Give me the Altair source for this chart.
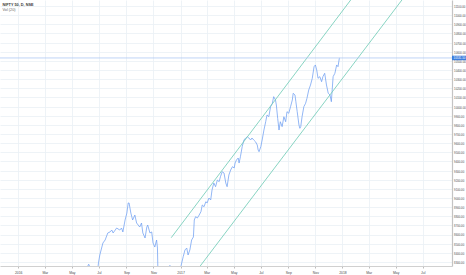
import altair as alt
import pandas as pd

# ---- data ----
dates = [
    "2015-11-20", "2015-12-15", "2016-01-04", "2016-02-12", "2016-03-15", "2016-04-15",
    "2016-05-13", "2016-05-27", "2016-06-08", "2016-06-17", "2016-06-24", "2016-06-27",
    "2016-06-30", "2016-07-03", "2016-07-10", "2016-07-15", "2016-07-21", "2016-07-26",
    "2016-07-30", "2016-08-02", "2016-08-10", "2016-08-17", "2016-08-21", "2016-08-24",
    "2016-08-29", "2016-09-02", "2016-09-05", "2016-09-07", "2016-09-11", "2016-09-15",
    "2016-09-20", "2016-09-24", "2016-10-01", "2016-10-05", "2016-10-08", "2016-10-13",
    "2016-10-17", "2016-10-19", "2016-10-24", "2016-10-28", "2016-10-31", "2016-11-04",
    "2016-11-08", "2016-11-10", "2016-11-11", "2016-11-15", "2016-11-21", "2016-11-25",
    "2016-11-29", "2016-12-02", "2016-12-08", "2016-12-15", "2016-12-23", "2016-12-30",
    "2017-01-01", "2017-01-07", "2017-01-11", "2017-01-15", "2017-01-18", "2017-01-22",
    "2017-01-26", "2017-01-30", "2017-02-01", "2017-02-04", "2017-02-08", "2017-02-12",
    "2017-02-16", "2017-02-19", "2017-02-23", "2017-02-27", "2017-03-02", "2017-03-06",
    "2017-03-10", "2017-03-13", "2017-03-17", "2017-03-21", "2017-03-25", "2017-03-29",
    "2017-04-01", "2017-04-05", "2017-04-09", "2017-04-13", "2017-04-16", "2017-04-20",
    "2017-04-24", "2017-04-28", "2017-05-02", "2017-05-04", "2017-05-07", "2017-05-11",
    "2017-05-13", "2017-05-16", "2017-05-20", "2017-05-24", "2017-05-28", "2017-06-01",
    "2017-06-04", "2017-06-08", "2017-06-11", "2017-06-15", "2017-06-19", "2017-06-23",
    "2017-06-25", "2017-06-27", "2017-07-01", "2017-07-04", "2017-07-08", "2017-07-12",
    "2017-07-15", "2017-07-19", "2017-07-23", "2017-07-27", "2017-07-30", "2017-08-03",
    "2017-08-05", "2017-08-08", "2017-08-11", "2017-08-14", "2017-08-18", "2017-08-22",
    "2017-08-26", "2017-08-29", "2017-09-02", "2017-09-06", "2017-09-10", "2017-09-12",
    "2017-09-16", "2017-09-18", "2017-09-21", "2017-09-25", "2017-09-27", "2017-09-29",
    "2017-10-02", "2017-10-06", "2017-10-10", "2017-10-13", "2017-10-17", "2017-10-21",
    "2017-10-25", "2017-10-29", "2017-11-01", "2017-11-04", "2017-11-07", "2017-11-11",
    "2017-11-15", "2017-11-18", "2017-11-22", "2017-11-26", "2017-11-30", "2017-12-04",
    "2017-12-07", "2017-12-11", "2017-12-15", "2017-12-19", "2017-12-22", "2017-12-25",
    "2017-12-26",
]
closes = [
    7850, 7700, 7790, 6980, 7460, 7850,
    7810, 8160, 8275, 8170, 8090, 8150,
    8290, 8376, 8507, 8540, 8617, 8628,
    8649, 8617, 8671, 8649, 8671, 8628,
    8759, 8835, 8945, 8945, 8835, 8759,
    8813, 8726, 8682, 8726, 8617, 8562,
    8682, 8704, 8617, 8628, 8507, 8463,
    8540, 8452, 8200, 8108, 7930, 8114,
    8245, 8090, 8262, 8150, 7990, 8186,
    8234, 8357, 8431, 8452, 8376, 8431,
    8540, 8573, 8759, 8795, 8781, 8813,
    8850, 8923, 8904, 8959, 8945, 8999,
    8978, 9087, 9164, 9123, 9196, 9178,
    9233, 9287, 9273, 9164, 9123, 9251,
    9306, 9342, 9328, 9382, 9415, 9437,
    9382, 9451, 9561, 9634, 9656, 9670,
    9656, 9634, 9656, 9634, 9615, 9579,
    9524, 9506, 9561, 9634, 9743, 9834,
    9908, 9889, 9998, 10036, 10108, 10072,
    10017, 9871, 9743, 9834, 9780, 9889,
    9834, 9944, 9926, 9998, 10072, 10145,
    10126, 10053, 9944, 9798, 9762, 9780,
    9889, 9998, 10036, 10090, 10181, 10236,
    10309, 10436, 10455, 10400, 10309, 10327,
    10272, 10327, 10364, 10236, 10145, 10126,
    10053, 10327, 10364, 10455, 10436, 10528,
    10531.50,
]

upper_dates = ["2016-12-11", "2018-02-10"]
upper_vals = [8565, 11303]
lower_dates = ["2017-02-01", "2018-06-01"]
lower_vals = [8170, 11274]

last_price = [10531.50]
last_label = ["10531.50"]

y_ticks = list(range(8300, 11101, 100))
x_tick_months = [(2016, 1), (2016, 3), (2016, 5), (2016, 7), (2016, 9), (2016, 11),
                 (2017, 1), (2017, 3), (2017, 5), (2017, 7), (2017, 9), (2017, 11),
                 (2018, 1), (2018, 3), (2018, 5), (2018, 7)]
header_title = ["NIFTY 50, D, NSE"]
header_sub = ["Vol (20)"]

# ---- tables ----
price_df = pd.DataFrame({"date": dates, "close": closes})
chan_df = pd.DataFrame({
    "ch": ["upper"] * 2 + ["lower"] * 2,
    "date": upper_dates + lower_dates,
    "val": upper_vals + lower_vals,
})
last_df = pd.DataFrame({"date": [dates[-1]], "p": last_price, "label": last_label})

W, H = 452, 266
FONT = "Liberation Sans"

xscale = alt.Scale(type="utc", domain=[alt.DateTime(year=2015, month=11, date=21, utc=True),
                                       alt.DateTime(year=2018, month=9, date=5, utc=True)])
yscale = alt.Scale(domain=[8255.6, 11165.6], zero=False, nice=False)

xaxis = alt.Axis(
    values=[alt.DateTime(year=y, month=m, date=1, utc=True) for y, m in x_tick_months],
    labelExpr="utcFormat(datum.value, '%m') == '01' ? utcFormat(datum.value, '%Y') : utcFormat(datum.value, '%b')",
    title=None, grid=True, gridColor="#eaf0f5", gridWidth=0.8,
    labelFontSize=3.4, labelColor="#4a4a4a", labelFont=FONT, labelPadding=2.5,
    tickSize=2, tickColor="#bdbdbd", domainColor="#d0d0d0", labelFlush=False,
)
yaxis = alt.Axis(
    orient="right", values=y_ticks, format=".2f", title=None,
    grid=True, gridColor="#eaf0f5", gridWidth=0.8,
    labelFontSize=2.8, labelColor="#4a4a4a", labelFont=FONT, labelPadding=1.6,
    labelAlign="left", ticks=False,
    domainColor="#c4c4c4", domainWidth=1.2,
)


def X(field):
    return alt.X(field, scale=xscale, axis=xaxis)


def Y(field):
    return alt.Y(field, scale=yscale, axis=yaxis)


price = alt.Chart(price_df).mark_line(color="#6f9ff2", strokeWidth=0.75, clip=True).encode(
    x=X("date:T"), y=Y("close:Q"),
)

channel = alt.Chart(chan_df).mark_line(color="#72ccb7", strokeWidth=0.85, clip=True).encode(
    x=X("date:T"), y=Y("val:Q"), detail="ch:N",
)

last_rule = alt.Chart(last_df).mark_rule(color="#b0c9f4", strokeWidth=0.8).encode(
    y=Y("p:Q"),
)

tag = alt.Chart(last_df).mark_tick(color="#3b7ddd", thickness=4.5, size=14, opacity=1, clip=False).encode(
    x=alt.value(459), y=Y("p:Q"),
)
tag_text = alt.Chart(last_df).mark_text(color="white", fontSize=2.8, font=FONT, align="left",
                                        baseline="middle", clip=False).encode(
    x=alt.value(453.6), y=Y("p:Q"), text="label:N",
)

title1 = alt.Chart(pd.DataFrame({"t": header_title})).mark_text(
    align="left", baseline="top", fontSize=3.8, fontWeight="bold", color="#3a3a3a", font=FONT
).encode(x=alt.value(2.5), y=alt.value(2.8), text="t:N")
title2 = alt.Chart(pd.DataFrame({"t": header_sub})).mark_text(
    align="left", baseline="top", fontSize=3.8, color="#6a6a6a", font=FONT
).encode(x=alt.value(2.5), y=alt.value(8.3), text="t:N")

chart = alt.layer(price, channel, last_rule, tag, tag_text, title1, title2).properties(
    width=W, height=H,
    padding={"left": 0, "top": 0, "right": 14, "bottom": 9},
    autosize=alt.AutoSizeParams(type="none"),
    background="white",
).configure_view(stroke=None)

chart.save("out.html", embed_options={"renderer": "svg", "actions": False})
